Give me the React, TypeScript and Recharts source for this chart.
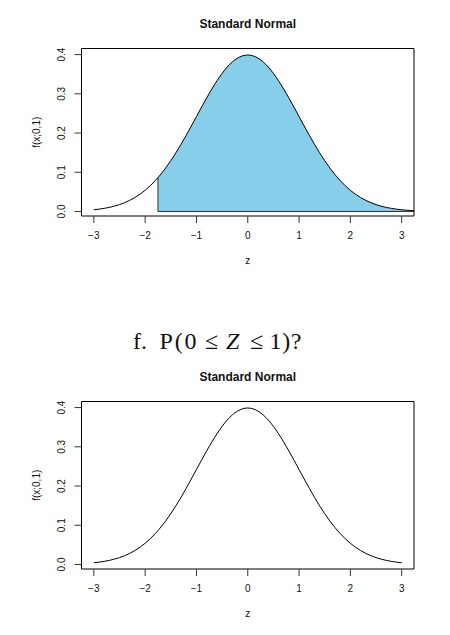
import React from "react";
import {
  ComposedChart,
  Line,
  Area,
  XAxis,
  YAxis,
  ReferenceArea,
  ReferenceLine,
  Label,
} from "recharts";

// z grid and density
const zValues = [
  -3, -2.8, -2.6, -2.4, -2.2, -2, -1.8, -1.75, -1.6, -1.4, -1.2, -1, -0.8,
  -0.6, -0.4, -0.2, 0, 0.2, 0.4, 0.6, 0.8, 1, 1.2, 1.4, 1.6, 1.8, 2, 2.2, 2.4,
  2.6, 2.8, 3, 3.24,
];
const densityValues = [
  0.0044, 0.0079, 0.0136, 0.0224, 0.0355, 0.054, 0.079, 0.0863, 0.1109,
  0.1497, 0.1942, 0.242, 0.2897, 0.3332, 0.3683, 0.391, 0.3989, 0.391, 0.3683,
  0.3332, 0.2897, 0.242, 0.1942, 0.1497, 0.1109, 0.079, 0.054, 0.0355, 0.0224,
  0.0136, 0.0079, 0.0044, 0.0021,
];
const shadeFrom = -1.75;
const shadeFromDensity = 0.0863;

const xTicks = [-3, -2, -1, 0, 1, 2, 3];
const yTicks = [0, 0.1, 0.2, 0.3, 0.4];
const xDomain: [number, number] = [-3.24, 3.24];
const yDomain: [number, number] = [-0.0115, 0.4155];

const title = "Standard Normal";
const xLabel = "z";
const yLabel = "f(x;0,1)";

// question pieces, laid out like the typeset line
const questionParts = [
  { text: "f.", x: 133 },
  { text: "P(0", x: 159.5, len: 37 },
  { text: "≤", x: 205 },
  { text: "Z", x: 226, italic: true },
  { text: "≤", x: 250 },
  { text: "1)?", x: 269.5, len: 32 },
];

const font = "'Liberation Sans', Arial, Helvetica, sans-serif";
const serif = "'Liberation Serif', 'Times New Roman', serif";

const topData = zValues.map((z, i) => ({
  z,
  f: densityValues[i],
  shade: z >= shadeFrom ? densityValues[i] : undefined,
}));
const bottomData = zValues
  .map((z, i) => ({ z, f: densityValues[i] }))
  .filter((d) => d.z <= 3);

const fmtX = (v: number) => (v < 0 ? `\u2212${Math.abs(v)}` : `${v}`);

const RotatedTick = ({ x, y, payload }: any) => (
  <text
    x={x}
    y={y}
    transform={`rotate(-90 ${x} ${y})`}
    textAnchor="middle"
    fontSize={10}
    fill="#111"
    fontFamily={font}
  >
    {Number(payload.value).toFixed(1)}
  </text>
);

const TitleText = ({ viewBox }: any) => {
  if (!viewBox) return null;
  return (
    <text
      x={viewBox.x + viewBox.width / 2}
      y={viewBox.y - 20.2}
      textAnchor="middle"
      fontSize={12}
      fontWeight="bold"
      fill="#111"
      fontFamily={font}
    >
      {title}
    </text>
  );
};

const XLabelText = ({ viewBox }: any) => {
  if (!viewBox) return null;
  return (
    <text
      x={viewBox.x + viewBox.width / 2}
      y={viewBox.y + viewBox.height + 47.7}
      textAnchor="middle"
      fontSize={10}
      fill="#111"
      fontFamily={font}
    >
      {xLabel}
    </text>
  );
};

const YLabelText = ({ viewBox }: any) => {
  if (!viewBox) return null;
  const x = viewBox.x - 41.3;
  const y = viewBox.y + viewBox.height / 2;
  return (
    <text
      x={x}
      y={y}
      transform={`rotate(-90 ${x} ${y})`}
      textAnchor="middle"
      fontSize={10}
      fill="#111"
      fontFamily={font}
    >
      {yLabel}
    </text>
  );
};

function NormalPlot({ data, shaded }: { data: any[]; shaded: boolean }) {
  return (
    <ComposedChart
      width={450}
      height={280}
      data={data}
      margin={{ top: 48.5, right: 36, bottom: 34, left: 0 }}
    >
      <XAxis
        type="number"
        dataKey="z"
        domain={xDomain}
        ticks={xTicks}
        interval={0}
        allowDataOverflow
        axisLine={false}
        tickLine={{ stroke: "#333" }}
        tickSize={7}
        tickMargin={8.6}
        tickFormatter={fmtX}
        tick={{ fontSize: 10, fill: "#111", fontFamily: font }}
        height={30}
      />
      <YAxis
        type="number"
        domain={yDomain}
        ticks={yTicks}
        interval={0}
        allowDataOverflow
        axisLine={false}
        tickLine={{ stroke: "#333" }}
        tickSize={7}
        tickMargin={9.5}
        tick={<RotatedTick />}
        width={81.5}
      />
      {shaded && (
        <Area
          dataKey="shade"
          type="monotone"
          fill="#87CEEB"
          fillOpacity={1}
          stroke="none"
          baseValue={0}
          isAnimationActive={false}
        />
      )}
      {shaded && (
        <ReferenceLine
          segment={[
            { x: shadeFrom, y: 0 },
            { x: shadeFrom, y: shadeFromDensity },
          ]}
          stroke="#333"
          strokeWidth={1}
        />
      )}
      {shaded && (
        <ReferenceLine
          segment={[
            { x: shadeFrom, y: 0 },
            { x: xDomain[1], y: 0 },
          ]}
          stroke="#333"
          strokeWidth={1}
        />
      )}
      <Line
        dataKey="f"
        type="monotone"
        stroke="#000"
        strokeWidth={1}
        dot={false}
        activeDot={false}
        isAnimationActive={false}
      />
      <ReferenceArea
        x1={xDomain[0]}
        x2={xDomain[1]}
        y1={yDomain[0]}
        y2={yDomain[1]}
        fill="none"
        stroke="#000"
        strokeWidth={1}
        ifOverflow="visible"
      >
        <Label content={<TitleText />} />
        <Label content={<XLabelText />} />
        <Label content={<YLabelText />} />
      </ReferenceArea>
    </ComposedChart>
  );
}

export default function App() {
  return (
    <div
      style={{
        position: "absolute",
        left: 0,
        top: 0,
        width: 450,
        height: 635,
        background: "#fff",
      }}
    >
      <div style={{ position: "absolute", left: 0, top: 0 }}>
        <NormalPlot data={topData} shaded={true} />
      </div>
      <svg
        width={450}
        height={40}
        style={{ position: "absolute", left: 0, top: 320 }}
      >
        {questionParts.map((p, i) => (
          <text
            key={i}
            x={p.x}
            y={29.3}
            fontSize={24}
            fill="#111"
            fontFamily={serif}
            fontStyle={p.italic ? "italic" : "normal"}
            textLength={p.len}
            lengthAdjust={p.len ? "spacing" : undefined}
          >
            {p.text}
          </text>
        ))}
      </svg>
      <div style={{ position: "absolute", left: 0, top: 352.5 }}>
        <NormalPlot data={bottomData} shaded={false} />
      </div>
    </div>
  );
}
